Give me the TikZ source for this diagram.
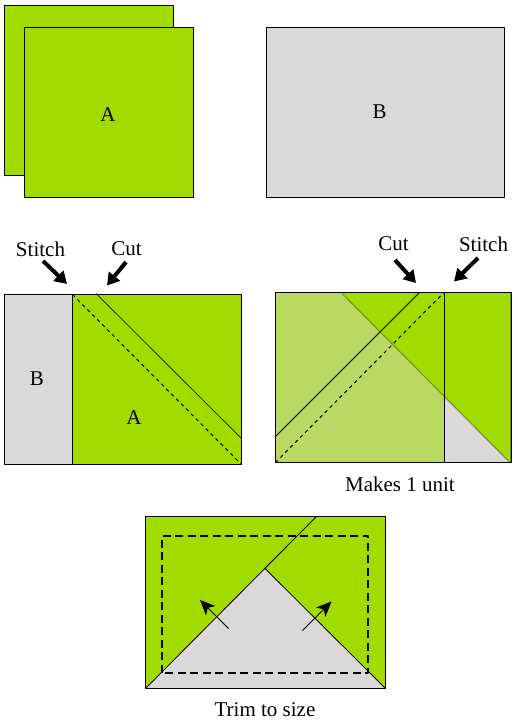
\documentclass[tikz,border=0pt]{standalone}
\usepackage{fontspec}
\setmainfont{Liberation Serif}
\usetikzlibrary{arrows.meta}
\definecolor{patchgreen}{HTML}{A2DB00}
\definecolor{patchlight}{HTML}{B9D963}
\definecolor{patchgray}{HTML}{D9D9D9}
\definecolor{foldline}{HTML}{6F8F20}
\tikzset{
  patchA/.style={fill=patchgreen, draw=black, line width=1.4pt},
  patchB/.style={fill=patchgray, draw=black, line width=1.4pt},
  cutline/.style={draw=black!80!patchgreen, line width=0.8pt},
  stitchline/.style={draw=black, line width=1pt, dash pattern=on 3.5pt off 3.5pt},
  pointer/.style={line width=4pt, -{Triangle[length=12pt,width=14pt]}},
  pressarrow/.style={line width=0.9pt, -{Stealth[length=15pt,width=13pt,inset=4pt]}},
  lbl/.style={font=\fontsize{21}{24}\selectfont, inner sep=0pt}
}
\begin{document}
\begin{tikzpicture}[x=1pt,y=-1pt,line join=round]
    \useasboundingbox (0,0) rectangle (517,723);

    % the two cut pieces at the top
    \draw[patchA] (4.5,5.5) rectangle (173.5,175.5);
    \draw[patchA] (24.5,27.5) rectangle (193.5,197.5);
    \draw[patchB] (266.5,27.5) rectangle (504.5,197.5);
    \node[lbl] (topA) at (108,115) {A};
    \node[lbl] (topB) at (379.5,112) {B};

    % left unit, square laid on the rectangle
    \draw[patchB] (4.5,294.5) rectangle (72.5,464.5);
    \draw[patchA] (72.5,294.5) rectangle (241.5,464.5);
    \draw[cutline] (96,293.5)--(241,438);
    \draw[stitchline] (72.5,294.5)--(241,464);
    \node[lbl] (leftB) at (37,379) {B};
    \node[lbl] (leftA) at (134,418) {A};

    \node[lbl] (stitchL) at (40.5,249) {Stitch};
    \node[lbl] (cutL) at (126.5,249) {Cut};
    \coordinate (stitchLtip) at (67,284);
    \coordinate (cutLtip) at (107,285.5);
    \draw[pointer] (43,261)--(stitchLtip);
    \draw[pointer] (126,262)--(cutLtip);

    % right unit, second square on top
    \fill[patchgreen] (275.5,292.5) rectangle (511,462.5);
    \fill[patchlight] (275.5,292.5)--(341,292.5)--(444.3,396)--(444.3,462.5)--(275.5,462.5)--cycle;
    \fill[patchgray] (444.3,396)--(510,462.5)--(444.3,462.5)--cycle;
    \fill[foldline] (510,292.5) rectangle (511.5,462.5);
    \draw[foldline, line width=1pt] (341,292.5)--(510,462.5);
    \draw[black, line width=1.4pt] (275.5,292.5) rectangle (511.5,462.5);
    \draw[black, line width=1.4pt] (444.3,292.5)--(444.3,462.5);
    \draw[black, line width=0.8pt] (275.5,436.5)--(419.5,292.5);
    \draw[stitchline] (275.5,462.5)--(444,292.5);

    \node[lbl] (cutR) at (393.5,244) {Cut};
    \node[lbl] (stitchR) at (483.5,244) {Stitch};
    \node[lbl] (unitR) at (400,484) {Makes 1 unit};
    \coordinate (cutRtip) at (416,283);
    \coordinate (stitchRtip) at (454,281.5);
    \draw[pointer] (395,260)--(cutRtip);
    \draw[pointer] (478,258)--(stitchRtip);

    % pressed unit with trim line
    \draw[patchA] (145.5,516.5) rectangle (385.5,688.5);
    \fill[patchgray] (146,688)--(265,568.5)--(385,688)--cycle;
    \draw[black, line width=0.8pt] (146,688)--(316.5,516.5);
    \draw[black, line width=0.8pt] (265,568.5)--(385,688);
    \draw[black, line width=1.4pt] (145.5,516.5) rectangle (385.5,688.5);
    \draw[black, line width=2pt, dash pattern=on 8pt off 4.5pt] (162,672.5)--(162,535.5)--(368,535.5)--(368,672.5)--cycle;
    \coordinate (pressLtip) at (200,600);
    \coordinate (pressRtip) at (331.5,601.5);
    \draw[pressarrow] (228.5,628.5)--(pressLtip);
    \draw[pressarrow] (302.5,630.5)--(pressRtip);
    \node[lbl] (trimT) at (265,710) {Trim to size};
\end{tikzpicture}
\end{document}
